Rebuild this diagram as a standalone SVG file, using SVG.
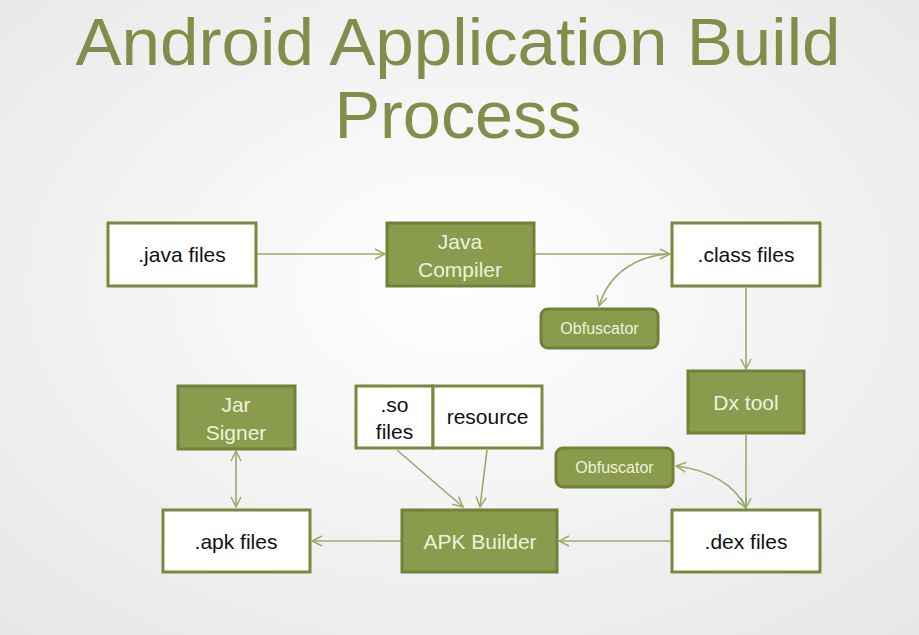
<svg xmlns="http://www.w3.org/2000/svg" width="919" height="635" viewBox="0 0 919 635">
<defs>
<radialGradient id="bg" cx="0.5" cy="0.45" r="0.75"><stop offset="0" stop-color="#ffffff"/><stop offset="1" stop-color="#e6e6e6"/></radialGradient>
<marker id="a" viewBox="0 0 12 12" refX="11" refY="6" markerWidth="12" markerHeight="12" markerUnits="userSpaceOnUse" orient="auto-start-reverse"><path d="M1,1 L11,6 L1,11" fill="none" stroke="#9aaa68" stroke-width="1.5"/></marker>
<style>
.w{fill:#fff;stroke:#76893c;stroke-width:3}
.g{fill:#8a9b4e;stroke:#6f8236;stroke-width:3}
.tw{font-family:"Liberation Sans",Arial,sans-serif;font-size:21px;fill:#111;text-anchor:middle}
.tg{font-family:"Liberation Sans",Arial,sans-serif;font-size:21px;fill:#eef2dc;text-anchor:middle}
.ts{font-size:16px}
.c{fill:none;stroke:#9aaa68;stroke-width:1.6;marker-end:url(#a)}
</style>
</defs>
<rect width="919" height="635" fill="url(#bg)"/>
<g id="title" font-family="Liberation Sans,Arial,sans-serif" fill="#7f8f4a" text-anchor="middle">
<text x="458" y="65" font-size="66" textLength="765" lengthAdjust="spacingAndGlyphs">Android Application Build</text>
<text x="458" y="138" font-size="66" textLength="247" lengthAdjust="spacingAndGlyphs">Process</text>
</g>
<g id="connectors">
<path class="c" d="M257,254 H385"/>
<path class="c" d="M535,254 H670"/>
<path class="c" d="M668,254 C640,256 610,270 599,306"/>
<path class="c" d="M746,288 V369"/>
<path class="c" d="M746,435 V508"/>
<path class="c" d="M746,508 C735,485 710,470 676,466" style="marker-start:url(#a)"/>
<path class="c" d="M671,541 H559"/>
<path class="c" d="M401,541 H312"/>
<path class="c" d="M236,451 V507" style="marker-start:url(#a)"/>
<path class="c" d="M397,450 L463,507"/>
<path class="c" d="M487,450 L480,507"/>
</g>
<g id="java"><rect class="w" x="108" y="223" width="148" height="63"/><text class="tw" x="182" y="262">.java files</text></g>
<g id="javac"><rect class="g" x="387" y="223" width="147" height="63"/><text class="tg" x="460" y="249">Java</text><text class="tg" x="460" y="277">Compiler</text></g>
<g id="class"><rect class="w" x="672" y="223" width="148" height="63"/><text class="tw" x="746" y="262">.class files</text></g>
<g id="obf1"><rect class="g" x="541" y="309" width="117" height="39" rx="7"/><text class="tg ts" x="599.5" y="334">Obfuscator</text></g>
<g id="dx"><rect class="g" x="688" y="371" width="116" height="62"/><text class="tg" x="746" y="410">Dx tool</text></g>
<g id="obf2"><rect class="g" x="556" y="448" width="117" height="39" rx="7"/><text class="tg ts" x="614.5" y="473">Obfuscator</text></g>
<g id="dex"><rect class="w" x="672" y="510" width="148" height="62"/><text class="tw" x="746" y="549">.dex files</text></g>
<g id="apkb"><rect class="g" x="402" y="510" width="155" height="62"/><text class="tg" x="480" y="549">APK Builder</text></g>
<g id="apk"><rect class="w" x="163" y="510" width="147" height="62"/><text class="tw" x="236" y="549">.apk files</text></g>
<g id="jar"><rect class="g" x="178" y="386" width="117" height="63"/><text class="tg" x="236" y="412">Jar</text><text class="tg" x="236" y="440">Signer</text></g>
<g id="so"><rect class="w" x="356" y="386" width="77" height="62"/><text class="tw" x="394.5" y="412">.so</text><text class="tw" x="394.5" y="439">files</text></g>
<g id="res"><rect class="w" x="433" y="386" width="109" height="62"/><text class="tw" x="487.5" y="424" font-size="19">resource</text></g>
</svg>
